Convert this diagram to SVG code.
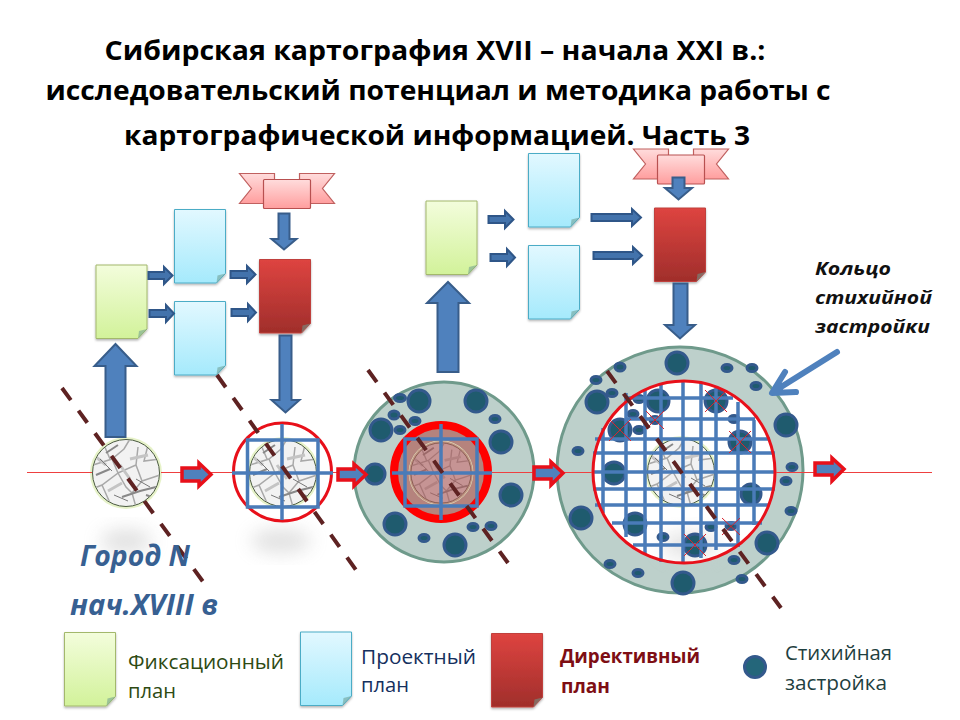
<svg xmlns="http://www.w3.org/2000/svg" xmlns:xlink="http://www.w3.org/1999/xlink" width="960" height="720" viewBox="0 0 960 720">
<style>
.t{font-family:"Open Sans","Liberation Sans",sans-serif;font-weight:700;font-size:27.500px;fill:#000;text-anchor:middle}
.l{font-family:"Open Sans","Liberation Sans",sans-serif;font-size:20px;font-weight:500;stroke-width:.3}
.city{font-family:"Open Sans","Liberation Sans",sans-serif;font-weight:700;font-style:italic;font-size:28px;fill:#376092}
.note{font-family:"Open Sans","Liberation Sans",sans-serif;font-weight:700;font-style:italic;font-size:18px;fill:#111}
.bl{fill:#4F81BD;stroke:#385D8A;stroke-width:2}
.sm{fill:#4373AC;stroke:#2F5688;stroke-width:2}
.ra{fill:#4F81BD;stroke:#E8101A;stroke-width:3.500}
.axis{stroke:#EE4040;stroke-width:1;fill:none}
.dash{stroke:#5E2222;stroke-width:4;fill:none;stroke-dasharray:15 13}
.grid{stroke:#4A7BB8;stroke-width:3.500;fill:none}
.big{fill:#1F5B6E;stroke:#33598C;stroke-width:3}
.cross{stroke:#D8242E;stroke-width:1;fill:none}
.ring{fill:#BDD0CB;stroke:#6F9A8B;stroke-width:3}
.green{fill:url(#gG);stroke:#A3B86C}
.blue{fill:url(#gB);stroke:#4BACC6}
.red{fill:url(#gR);stroke:#C0403C}
</style>
<defs>
<linearGradient id="gG" x1="0" y1="0" x2="0" y2="1"><stop offset="0" stop-color="#F3FDDC"/><stop offset="1" stop-color="#D2F29A"/></linearGradient>
<linearGradient id="gB" x1="0" y1="0" x2="0" y2="1"><stop offset="0" stop-color="#E2F8FF"/><stop offset="1" stop-color="#A5EAFC"/></linearGradient>
<linearGradient id="gR" x1="0" y1="0" x2="0" y2="1"><stop offset="0" stop-color="#DE4440"/><stop offset="1" stop-color="#A02E2B"/></linearGradient>
<linearGradient id="gP" x1="0" y1="0" x2="0" y2="1"><stop offset="0" stop-color="#FFDCDC"/><stop offset="1" stop-color="#FF9E9E"/></linearGradient>
<filter id="sh" x="-20%" y="-20%" width="140%" height="140%"><feDropShadow dx="0" dy="1.500" stdDeviation="1.200" flood-color="#000" flood-opacity=".3"/></filter>
<filter id="blur" x="-50%" y="-50%" width="200%" height="200%"><feGaussianBlur stdDeviation="9"/></filter>
<filter id="soft" x="-10%" y="-10%" width="120%" height="120%"><feGaussianBlur stdDeviation=".5"/></filter>
<clipPath id="mapClip"><circle r="33"/></clipPath>
<g id="doc"><path d="M0 0H51V64L42 73.500H0Z" filter="url(#sh)"/><path d="M42 73.500L43 66L51 64Z" fill-opacity=".55" stroke="none" style="fill:#6B9A8E"/></g>
<g id="map">
<circle r="36" fill="#E6F2C8"/>
<circle r="33.500" fill="#F2F2F2" stroke="#4A5A40" stroke-width="1"/>
<g clip-path="url(#mapClip)"><g filter="url(#soft)" fill="none" stroke="#A8A8A8" stroke-width="1.500">
<path d="M-33-8L-14-14L-2-24L4-34M-14-14L-8 0L-24 12L-34 16M-8 0L10-8L12-26M10-8L16 8L34 2M16 8L6 20L10 34M-8 0L0 14L6 20M-24 12L-16 30M-22-28L-16-14M22-28L18-12L34-14"/>
<path d="M-30 2L-16-4M-4 24L14 18L30 14M20 22L32 26M-20-20L-8-28" stroke="#888" stroke-width="2"/>
<path d="M-18 18L-4 10M4-14L22-18M-30-16L-20-8M-6-8L4 6" stroke="#C4C4C4" stroke-width="3"/>
<path d="M-26-14L-14-2M10 6L24 14M-12 22L2 28" stroke="#777" stroke-width="1"/>
</g></g>
</g>
<g id="banner">
<path d="M0 0H35V30H0L12 15Z" fill="url(#gP)" stroke="#C0605F" stroke-width="1.200"/>
<path d="M95 0H60V30H95L83 15Z" fill="url(#gP)" stroke="#C0605F" stroke-width="1.200"/>
<rect x="24" y="6" width="47" height="29" rx="1" fill="url(#gP)" stroke="#B85050" stroke-width="1.200"/>
</g>
</defs>
<rect width="960" height="720" fill="#fff"/>
<g id="title">
<text class="t" x="435" y="60" textLength="661" lengthAdjust="spacingAndGlyphs">Сибирская картография XVII – начала XXI в.:</text>
<text class="t" x="438" y="100" textLength="785" lengthAdjust="spacingAndGlyphs">исследовательский потенциал и методика работы с</text>
<text class="t" x="437" y="145" textLength="626" lengthAdjust="spacingAndGlyphs">картографической информацией. Часть 3</text>
</g>
<ellipse cx="126" cy="541" rx="26" ry="12" fill="#aaa" opacity=".35" filter="url(#blur)"/>
<ellipse cx="281" cy="541" rx="30" ry="12" fill="#aaa" opacity=".35" filter="url(#blur)"/>
<g id="node-city-1"><use href="#map" x="126" y="473"/></g>
<g id="node-city-2">
<use href="#map" x="283" y="473"/>
<circle cx="282.500" cy="472" r="49" fill="none" stroke="#E8101A" stroke-width="3"/>
<path class="grid" d="M247.500 440H318V507H247.500ZM282 424V520M232 473H333"/>
</g>
<g id="node-city-3">
<circle class="ring" cx="444" cy="472" r="90"/>
<g class="big"><circle cx="419" cy="401" r="11"/><circle cx="476" cy="401" r="11"/><circle cx="381" cy="430" r="11"/><circle cx="501" cy="442" r="11"/><circle cx="375" cy="474" r="10"/><circle cx="511" cy="495" r="11"/><circle cx="395" cy="524" r="11"/><circle cx="455" cy="545" r="11"/>
<ellipse cx="400" cy="398" rx="5.500" ry="3.500"/><ellipse cx="394" cy="415" rx="5" ry="4"/><ellipse cx="415" cy="421" rx="5" ry="3.500"/><ellipse cx="400" cy="430" rx="5" ry="3.500"/><ellipse cx="495" cy="419" rx="5" ry="3.500"/><ellipse cx="473" cy="527" rx="5" ry="3.500"/><ellipse cx="491" cy="526" rx="5" ry="3.500"/><ellipse cx="424" cy="538" rx="5" ry="3.500"/></g>
<circle cx="441" cy="472" r="47" fill="#B5837D" stroke="#F00" stroke-width="8"/>
<use href="#map" x="441" y="473" transform="translate(44.100 47.300) scale(.9)"/>
<circle cx="441" cy="473" r="32" fill="#A85555" opacity=".6"/>
<path class="grid" d="M405 439H477V506H405ZM441 424V520M392 473H492"/>
</g>
<g id="node-city-4">
<circle class="ring" cx="680" cy="470" r="123"/>
<circle cx="684" cy="472" r="91" fill="#fff"/>
<ellipse cx="690" cy="545" rx="28" ry="14" fill="#ccc" opacity=".5" filter="url(#blur)"/>
<use href="#map" x="681" y="472"/>
<g class="big"><circle cx="677" cy="363" r="11"/><circle cx="597" cy="402" r="11"/><circle cx="786" cy="425" r="11"/><circle cx="581" cy="518" r="11"/><circle cx="767" cy="543" r="11"/><circle cx="683" cy="583" r="11"/><circle cx="658" cy="401" r="11"/><circle cx="716" cy="401" r="11"/><circle cx="620" cy="430" r="11"/><circle cx="740" cy="442" r="11"/><circle cx="614" cy="473" r="11"/><circle cx="751" cy="494" r="10"/><circle cx="635" cy="524" r="11"/><circle cx="695" cy="545" r="11"/>
<ellipse cx="620" cy="367" rx="5" ry="4"/><ellipse cx="596" cy="380" rx="5" ry="3.500"/><ellipse cx="612" cy="393" rx="5" ry="3.500"/><ellipse cx="639" cy="399" rx="5" ry="3.500"/><ellipse cx="633" cy="414" rx="5" ry="3.500"/><ellipse cx="639" cy="430" rx="5" ry="3.500"/><ellipse cx="655" cy="420" rx="5" ry="3.500"/><ellipse cx="734" cy="419" rx="5" ry="3.500"/><ellipse cx="578" cy="451" rx="5" ry="3.500"/><ellipse cx="727" cy="368" rx="5" ry="3.500"/><ellipse cx="752" cy="368" rx="5" ry="3.500"/><ellipse cx="756" cy="386" rx="5" ry="3.500"/><ellipse cx="792" cy="467" rx="5" ry="3.500"/><ellipse cx="786" cy="481" rx="5" ry="3.500"/><ellipse cx="791" cy="511" rx="5" ry="3.500"/><ellipse cx="711" cy="527" rx="5" ry="3.500"/><ellipse cx="731" cy="526" rx="5" ry="3.500"/><ellipse cx="663" cy="537" rx="5" ry="3.500"/><ellipse cx="734" cy="560" rx="5" ry="3.500"/><ellipse cx="742" cy="579" rx="5" ry="3.500"/><ellipse cx="610" cy="564" rx="5" ry="3.500"/><ellipse cx="638" cy="573" rx="5" ry="3.500"/></g>
<path class="grid" d="M603 428V513M626 393V537M645 390V555M661 383V562M683 380V563M701 383V558M716 388V550M738 402V547M754 420V525M627 398H733M627 419H755M595 439H770M593 453H775M592 472H776M593 489H775M595 505H768M612 523H762M633 545H740"/>
<path class="cross" d="M609 419L631 441M631 419L609 441M705 390L727 412M727 390L705 412M729 431L751 453M751 431L729 453M684 534L706 556M706 534L684 556M646 411L664 429M664 411L646 429M722 518L740 535M740 518L722 535"/>
<circle cx="684" cy="472" r="91" fill="none" stroke="#E8101A" stroke-width="3"/>
</g>
<g id="node-doc-g1" class="green"><use href="#doc" x="96" y="265"/></g>
<g id="node-doc-b1" class="blue"><use href="#doc" x="174.500" y="209.500"/></g>
<g id="node-doc-b2" class="blue"><use href="#doc" x="174.500" y="301.500"/></g>
<g id="node-doc-r1" class="red"><use href="#doc" x="259.500" y="259.500"/></g>
<g id="node-banner-1"><use href="#banner" x="239.500" y="173.500"/></g>
<g id="node-doc-g2" class="green"><use href="#doc" x="426" y="201"/></g>
<g id="node-doc-b3" class="blue"><use href="#doc" x="528.500" y="153.500"/></g>
<g id="node-doc-b4" class="blue"><use href="#doc" x="528.500" y="245.500"/></g>
<g id="node-doc-r2" class="red"><use href="#doc" x="654.500" y="208"/></g>
<g id="node-banner-2"><use href="#banner" x="633.500" y="149"/></g>
<g id="connectors">
<path class="axis" d="M27 472.500H92M161 472.500H232M333 472.500H338M492 472.500H592M776 472.500H932"/>
<path class="dash" d="M62 388L204 583M217 375L356 570M368 370L508 563M607 371L781 608"/>
<path class="bl" d="M105.500 437V366H94.500L115.500 344L136.500 366H125.500V437Z"/>
<path class="bl" d="M278.500 213.500H289.500V239H296.500L284 249.500L271.500 239H278.500Z"/>
<path class="bl" d="M279.500 335.500H291.500V400H299.500L285.500 412.500L271.500 400H279.500Z"/>
<path class="sm" d="M148.500 272H164V267L172.500 275.500L164 284V279H148.500Z"/>
<path class="sm" d="M149.500 310H166V305L174 313.500L166 322V317H149.500Z"/>
<path class="sm" d="M230.500 271H247V266L255.500 274.500L247 283V278H230.500Z"/>
<path class="sm" d="M231.500 309H248V304L256 312.500L248 321V316H231.500Z"/>
<path class="bl" d="M437.500 372V303H427L448 282L469 303H458.500V372Z"/>
<path class="bl" d="M672.500 177.500H684.500V188H692L678.500 199.500L665 188H672.500Z"/>
<path class="bl" d="M673.500 283.500H687.500V325H695L680 338.500L665 325H673.500Z"/>
<path class="sm" d="M488.500 216H505V211L513.500 219.500L505 228V223H488.500Z"/>
<path class="sm" d="M490.500 254H507V249L515 257.500L507 266V261H490.500Z"/>
<path class="sm" d="M591.500 214H632V209L641 217.500L632 226V221H591.500Z"/>
<path class="sm" d="M593.500 252H633V247L642 255.500L633 264V259H593.500Z"/>
<path class="ra" d="M182 468H199V463L211 474.500L199 486V481H182Z"/>
<path class="ra" d="M338 469H354V464L366 474.500L354 486V480H338Z"/>
<path class="ra" d="M534 467H551V462L563 473L551 485V479H534Z"/>
<path class="ra" d="M815 463H832V458L844 469L832 481V475H815Z"/>
<path d="M837 352L773 392M785 372L772 393L796 392" fill="none" stroke="#4F81BD" stroke-width="6" stroke-linecap="round" stroke-linejoin="round"/>
</g>
<g id="node-label-city">
<text class="city" x="80" y="566" textLength="110" lengthAdjust="spacingAndGlyphs">Город  N</text>
<text class="city" x="70" y="615" textLength="148" lengthAdjust="spacingAndGlyphs">нач.XVIII в</text>
</g>
<g id="node-label-ring">
<text class="note" x="815" y="275" textLength="76" lengthAdjust="spacingAndGlyphs">Кольцо</text>
<text class="note" x="815" y="304" textLength="117" lengthAdjust="spacingAndGlyphs">стихийной</text>
<text class="note" x="815" y="333" textLength="115" lengthAdjust="spacingAndGlyphs">застройки</text>
</g>
<g id="legend-fix">
<g class="green"><use href="#doc" x="64.500" y="632.500"/></g>
<text class="l" x="128" y="669" fill="#2E4A12" textLength="156" lengthAdjust="spacingAndGlyphs">Фиксационный</text>
<text class="l" x="128" y="698" fill="#2E4A12" textLength="48" lengthAdjust="spacingAndGlyphs">план</text>
</g>
<g id="legend-proj">
<g class="blue"><use href="#doc" x="300.500" y="632"/></g>
<text class="l" x="361" y="664" fill="#15305E" textLength="115" lengthAdjust="spacingAndGlyphs">Проектный</text>
<text class="l" x="361" y="692" fill="#15305E" textLength="48" lengthAdjust="spacingAndGlyphs">план</text>
</g>
<g id="legend-dir">
<g class="red"><use href="#doc" x="491.500" y="633.500"/></g>
<text class="l" x="560" y="663" fill="#7E0E14" style="font-weight:700" textLength="140" lengthAdjust="spacingAndGlyphs">Директивный</text>
<text class="l" x="561" y="693" fill="#7E0E14" style="font-weight:700" textLength="49" lengthAdjust="spacingAndGlyphs">план</text>
</g>
<g id="legend-spont">
<circle cx="755" cy="667" r="10.500" fill="#24667A" stroke="#33598C" stroke-width="3"/>
<text class="l" x="785" y="660" fill="#1F3F3F" textLength="107" lengthAdjust="spacingAndGlyphs">Стихийная</text>
<text class="l" x="785" y="690" fill="#1F3F3F" textLength="102" lengthAdjust="spacingAndGlyphs">застройка</text>
</g>
</svg>
